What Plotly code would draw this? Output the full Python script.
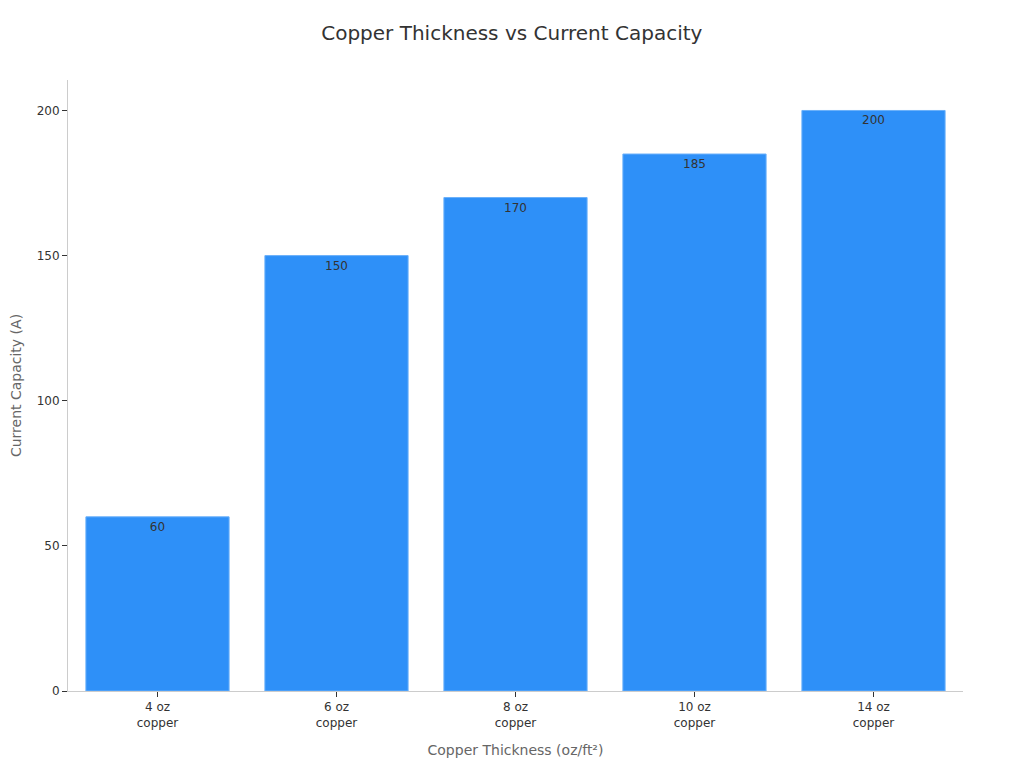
import plotly.graph_objects as go

categories = ["4 oz<br>copper", "6 oz<br>copper", "8 oz<br>copper", "10 oz<br>copper", "14 oz<br>copper"]
current_capacity = [60, 150, 170, 185, 200]

FONT = "DejaVu Sans, Verdana, sans-serif"

fig = go.Figure(go.Bar(
    x=categories,
    y=current_capacity,
    text=[str(v) for v in current_capacity],
    textposition="inside",
    insidetextanchor="end",
    textfont=dict(color="#333333", size=12, family=FONT),
    marker=dict(color="#2E90F8", line=dict(color="#6AB0FA", width=1)),
))

fig.update_layout(
    width=1024, height=768,
    title=dict(text="Copper Thickness vs Current Capacity", x=0.492, y=0.977,
               xanchor="center", font=dict(size=20, color="#333333", family=FONT)),
    font=dict(family=FONT, size=12, color="#333333"),
    paper_bgcolor="white",
    plot_bgcolor="white",
    margin=dict(l=60, r=69, t=72, b=85),
    bargap=0.2,
    showlegend=False,
    xaxis=dict(
        title=dict(text="Copper Thickness (oz/ft²)", font=dict(size=14, color="#666666"), standoff=16),
        automargin=False,
        showline=True, linecolor="#cccccc", linewidth=1,
        ticks="outside", ticklen=5, tickcolor="#333333",
        tickfont=dict(size=12, color="#333333"),
    ),
    yaxis=dict(
        title=dict(text="Current Capacity (A)", font=dict(size=14, color="#666666"), standoff=18),
        automargin=False,
        range=[0, 210.5],
        tickvals=[0, 50, 100, 150, 200],
        showline=True, linecolor="#cccccc", linewidth=1,
        ticks="outside", ticklen=5, tickcolor="#333333",
        showgrid=False, zeroline=False,
        tickfont=dict(size=12, color="#333333"),
    ),
)

fig.write_html("out.html")
